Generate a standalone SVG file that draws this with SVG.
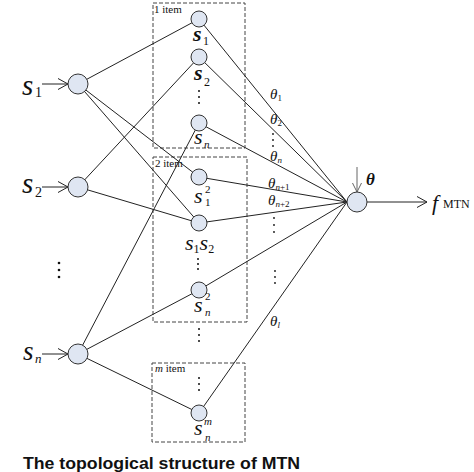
<svg xmlns="http://www.w3.org/2000/svg" width="474" height="472" viewBox="0 0 474 472">
<style>
.edge{stroke:#222;stroke-width:1;fill:none}
.node{fill:#dfe6f2;stroke:#333;stroke-width:1}
.box{fill:none;stroke:#444;stroke-width:1;stroke-dasharray:4 2}
.v{font-family:"Liberation Serif",serif;font-style:italic;fill:#111}
.r{font-family:"Liberation Serif",serif;fill:#111}
.dot{fill:#111}
</style>
<defs>
<marker id="chev" markerUnits="userSpaceOnUse" markerWidth="14" markerHeight="14" refX="11" refY="6" orient="auto">
<path d="M1,0.5 L11,6 L1,11.5" fill="none" stroke="#222" stroke-width="1"/>
</marker>
<marker id="chevg" markerUnits="userSpaceOnUse" markerWidth="14" markerHeight="14" refX="10" refY="5" orient="auto">
<path d="M1,0.5 L10,5 L1,9.5" fill="none" stroke="#666" stroke-width="1"/>
</marker>
</defs>
<rect width="474" height="472" fill="#fff"/>

<g id="boxes">
<rect class="box" x="153" y="3" width="92" height="145"/>
<rect class="box" x="153" y="157" width="94" height="165"/>
<rect class="box" x="152" y="363" width="93" height="79"/>
<text class="r" x="154" y="13" font-size="11">1 item</text>
<text class="r" x="155" y="167" font-size="11">2 item</text>
<text x="155" y="372" font-size="11" class="r"><tspan font-style="italic">m</tspan> item</text>
</g>

<g id="connectors">
<line class="edge" x1="42" y1="84" x2="68" y2="84" marker-end="url(#chev)"/>
<line class="edge" x1="42" y1="187" x2="68" y2="187" marker-end="url(#chev)"/>
<line class="edge" x1="42" y1="354" x2="68" y2="354" marker-end="url(#chev)"/>
<line class="edge" x1="78" y1="84" x2="199" y2="19"/>
<line class="edge" x1="78" y1="84" x2="199" y2="177"/>
<line class="edge" x1="78" y1="84" x2="199" y2="223"/>
<line class="edge" x1="78" y1="187" x2="199" y2="57"/>
<line class="edge" x1="78" y1="187" x2="199" y2="223"/>
<line class="edge" x1="78" y1="354" x2="199" y2="123"/>
<line class="edge" x1="78" y1="354" x2="199" y2="290"/>
<line class="edge" x1="78" y1="354" x2="199" y2="413"/>
<line class="edge" x1="199" y1="19" x2="347" y2="202"/>
<line class="edge" x1="199" y1="57" x2="347" y2="202"/>
<line class="edge" x1="199" y1="123" x2="347" y2="202"/>
<line class="edge" x1="199" y1="177" x2="347" y2="202"/>
<line class="edge" x1="199" y1="223" x2="347" y2="202"/>
<line class="edge" x1="199" y1="290" x2="347" y2="202"/>
<line class="edge" x1="199" y1="413" x2="347" y2="202"/>
<line x1="357" y1="167" x2="357" y2="192" stroke="#666" stroke-width="1" marker-end="url(#chevg)"/>
<line class="edge" x1="367" y1="202" x2="427" y2="202" marker-end="url(#chev)"/>
</g>

<g id="in1"><circle class="node" cx="78" cy="84" r="10"/><text class="v" x="22" y="95" font-size="29">s</text><text class="r" x="35" y="97" font-size="14">1</text></g>
<g id="in2"><circle class="node" cx="78" cy="187" r="10"/><text class="v" x="22" y="193" font-size="29">s</text><text class="r" x="35" y="197" font-size="14">2</text></g>
<g id="inn"><circle class="node" cx="78" cy="354" r="10"/><text class="v" x="23" y="360" font-size="27">s</text><text class="v" x="35" y="363" font-size="13">n</text></g>
<g id="indots"><circle class="dot" cx="59" cy="263" r="1.3"/><circle class="dot" cx="59" cy="270" r="1.3"/><circle class="dot" cx="59" cy="277" r="1.3"/></g>

<g id="h-s1"><circle class="node" cx="199" cy="19" r="8"/><text class="v" x="193" y="41" font-size="22" font-weight="bold">s</text><text class="r" x="203" y="45" font-size="12">1</text></g>
<g id="h-s2"><circle class="node" cx="199" cy="57" r="8"/><text class="v" x="194" y="80" font-size="22" font-weight="bold">s</text><text class="r" x="204" y="86" font-size="12">2</text></g>
<g id="h-dots1"><circle class="dot" cx="199" cy="91" r="1"/><circle class="dot" cx="199" cy="97" r="1"/><circle class="dot" cx="199" cy="103" r="1"/></g>
<g id="h-sn"><circle class="node" cx="199" cy="123" r="8"/><text class="v" x="194" y="144" font-size="22">s</text><text class="v" x="204" y="148" font-size="11">n</text></g>
<g id="h-s1sq"><circle class="node" cx="199" cy="177" r="8"/><text class="v" x="194" y="203" font-size="22">s</text><text class="r" x="205" y="193" font-size="11">2</text><text class="r" x="205" y="206" font-size="11">1</text></g>
<g id="h-s1s2"><circle class="node" cx="199" cy="223" r="8"/><text class="v" x="185" y="250" font-size="22">s<tspan class="r" font-style="normal" font-size="12" dy="3">1</tspan><tspan font-size="22" dy="-3">s</tspan><tspan font-style="normal" font-size="12" dy="3">2</tspan></text></g>
<g id="h-dots2"><circle class="dot" cx="198" cy="259" r="1"/><circle class="dot" cx="198" cy="264" r="1"/><circle class="dot" cx="198" cy="269" r="1"/></g>
<g id="h-snsq"><circle class="node" cx="199" cy="290" r="8"/><text class="v" x="194" y="312" font-size="22">s</text><text class="r" x="205" y="300" font-size="11">2</text><text class="v" x="205" y="316" font-size="11">n</text></g>
<g id="h-dots3"><circle class="dot" cx="199" cy="329" r="1"/><circle class="dot" cx="199" cy="335" r="1"/><circle class="dot" cx="199" cy="341" r="1"/></g>
<g id="h-dots4"><circle class="dot" cx="199" cy="378" r="1"/><circle class="dot" cx="199" cy="384" r="1"/><circle class="dot" cx="199" cy="390" r="1"/></g>
<g id="h-snm"><circle class="node" cx="199" cy="413" r="8"/><text class="v" x="194" y="435" font-size="22">s</text><text class="v" x="204" y="425" font-size="11">m</text><text class="v" x="205" y="441" font-size="11">n</text></g>

<g id="weights">
<text class="v" x="270" y="99" font-size="15">θ<tspan font-size="9" font-style="normal" dy="2">1</tspan></text>
<text class="v" x="270" y="124" font-size="15">θ<tspan font-size="9" font-style="normal" dy="2">2</tspan></text>
<circle class="dot" cx="273" cy="134" r="0.9"/><circle class="dot" cx="273" cy="140" r="0.9"/><circle class="dot" cx="273" cy="146" r="0.9"/>
<text class="v" x="270" y="161" font-size="15">θ<tspan font-size="9" dy="2">n</tspan></text>
<text class="v" x="268" y="188" font-size="15">θ<tspan font-size="9" dy="2">n</tspan><tspan font-size="9" font-style="normal">+1</tspan></text>
<text class="v" x="268" y="205" font-size="15">θ<tspan font-size="9" dy="2">n</tspan><tspan font-size="9" font-style="normal">+2</tspan></text>
<circle class="dot" cx="274" cy="218" r="0.9"/><circle class="dot" cx="274" cy="225" r="0.9"/><circle class="dot" cx="274" cy="232" r="0.9"/>
<circle class="dot" cx="275" cy="271" r="0.9"/><circle class="dot" cx="275" cy="277" r="0.9"/><circle class="dot" cx="275" cy="283" r="0.9"/>
<text class="v" x="270" y="326" font-size="15">θ<tspan font-size="9" dy="2">l</tspan></text>
</g>

<g id="out"><circle class="node" cx="357" cy="202" r="10"/>
<text class="v" x="366" y="185" font-size="17" font-weight="bold">θ</text>
<text class="v" x="432" y="210" font-size="22">f</text><text class="r" x="443" y="208" font-size="12">MTN</text></g>

<text x="23" y="469" font-family="Liberation Sans,Arial,sans-serif" font-weight="bold" font-size="16" textLength="277" lengthAdjust="spacingAndGlyphs" fill="#111">The topological structure of MTN</text>
</svg>
